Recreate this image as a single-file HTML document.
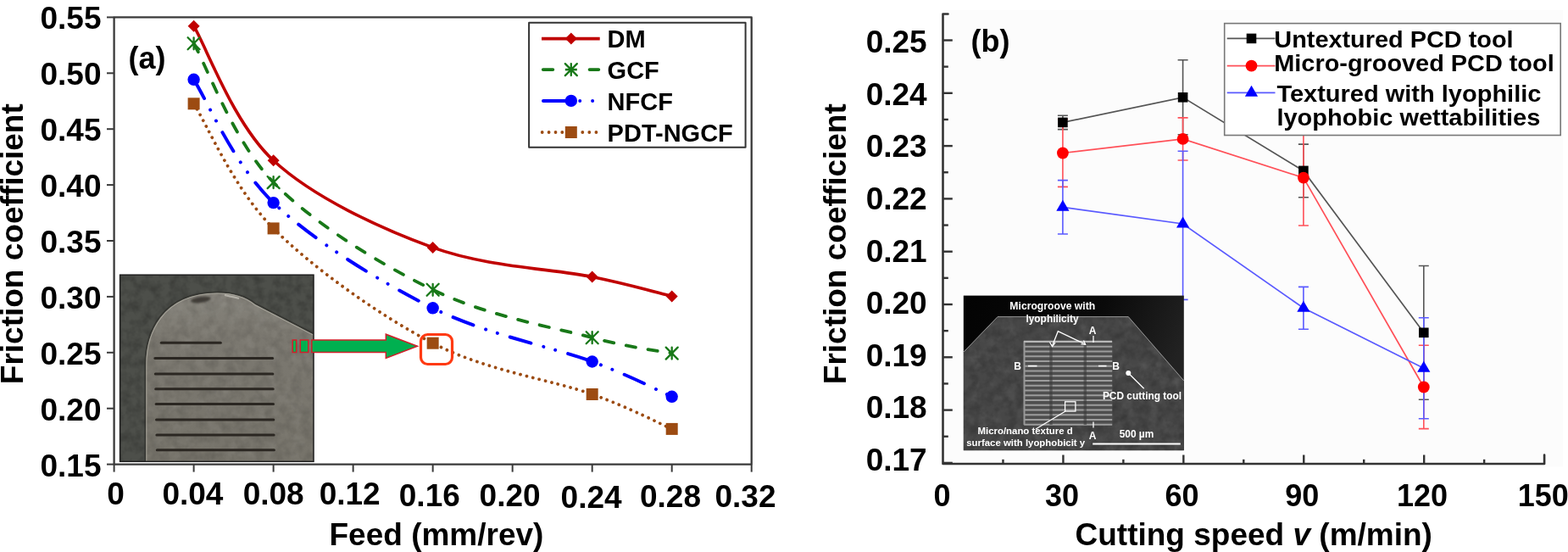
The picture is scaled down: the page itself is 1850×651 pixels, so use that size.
<!DOCTYPE html><html><head><meta charset="utf-8"><title>Friction coefficient charts</title>
<style>html,body{margin:0;padding:0;background:#fff;}svg{display:block;}</style></head><body>
<svg width="1850" height="651" viewBox="0 0 1850 651">
<g id="chartA">
<rect x="134.6" y="20.4" width="752.1" height="527.2" fill="none" stroke="#3a3a3a" stroke-width="2.3" stroke-linejoin="round"/>
<line x1="126" y1="20.4" x2="134.6" y2="20.4" stroke="#3a3a3a" stroke-width="2"/>
<text x="119.5" y="34.4" font-family="Liberation Sans, Arial, sans-serif" font-weight="bold" font-size="37" text-anchor="end">0.55</text>
<line x1="126" y1="86.3" x2="134.6" y2="86.3" stroke="#3a3a3a" stroke-width="2"/>
<text x="119.5" y="100.3" font-family="Liberation Sans, Arial, sans-serif" font-weight="bold" font-size="37" text-anchor="end">0.50</text>
<line x1="126" y1="152.2" x2="134.6" y2="152.2" stroke="#3a3a3a" stroke-width="2"/>
<text x="119.5" y="166.2" font-family="Liberation Sans, Arial, sans-serif" font-weight="bold" font-size="37" text-anchor="end">0.45</text>
<line x1="126" y1="218.1" x2="134.6" y2="218.1" stroke="#3a3a3a" stroke-width="2"/>
<text x="119.5" y="232.1" font-family="Liberation Sans, Arial, sans-serif" font-weight="bold" font-size="37" text-anchor="end">0.40</text>
<line x1="126" y1="284" x2="134.6" y2="284" stroke="#3a3a3a" stroke-width="2"/>
<text x="119.5" y="298" font-family="Liberation Sans, Arial, sans-serif" font-weight="bold" font-size="37" text-anchor="end">0.35</text>
<line x1="126" y1="349.9" x2="134.6" y2="349.9" stroke="#3a3a3a" stroke-width="2"/>
<text x="119.5" y="363.9" font-family="Liberation Sans, Arial, sans-serif" font-weight="bold" font-size="37" text-anchor="end">0.30</text>
<line x1="126" y1="415.8" x2="134.6" y2="415.8" stroke="#3a3a3a" stroke-width="2"/>
<text x="119.5" y="429.8" font-family="Liberation Sans, Arial, sans-serif" font-weight="bold" font-size="37" text-anchor="end">0.25</text>
<line x1="126" y1="481.7" x2="134.6" y2="481.7" stroke="#3a3a3a" stroke-width="2"/>
<text x="119.5" y="495.7" font-family="Liberation Sans, Arial, sans-serif" font-weight="bold" font-size="37" text-anchor="end">0.20</text>
<line x1="126" y1="547.6" x2="134.6" y2="547.6" stroke="#3a3a3a" stroke-width="2"/>
<text x="119.5" y="561.6" font-family="Liberation Sans, Arial, sans-serif" font-weight="bold" font-size="37" text-anchor="end">0.15</text>
<line x1="134.6" y1="547.6" x2="134.6" y2="556.6" stroke="#3a3a3a" stroke-width="2"/>
<line x1="228.61" y1="547.6" x2="228.61" y2="556.6" stroke="#3a3a3a" stroke-width="2"/>
<line x1="322.62" y1="547.6" x2="322.62" y2="556.6" stroke="#3a3a3a" stroke-width="2"/>
<line x1="416.64" y1="547.6" x2="416.64" y2="556.6" stroke="#3a3a3a" stroke-width="2"/>
<line x1="510.65" y1="547.6" x2="510.65" y2="556.6" stroke="#3a3a3a" stroke-width="2"/>
<line x1="604.66" y1="547.6" x2="604.66" y2="556.6" stroke="#3a3a3a" stroke-width="2"/>
<line x1="698.68" y1="547.6" x2="698.68" y2="556.6" stroke="#3a3a3a" stroke-width="2"/>
<line x1="792.69" y1="547.6" x2="792.69" y2="556.6" stroke="#3a3a3a" stroke-width="2"/>
<line x1="886.7" y1="547.6" x2="886.7" y2="556.6" stroke="#3a3a3a" stroke-width="2"/>
<text x="136.5" y="595" font-family="Liberation Sans, Arial, sans-serif" font-weight="bold" font-size="37" text-anchor="middle">0</text>
<text x="227.4" y="595" font-family="Liberation Sans, Arial, sans-serif" font-weight="bold" font-size="37" text-anchor="middle">0.04</text>
<text x="322.7" y="595" font-family="Liberation Sans, Arial, sans-serif" font-weight="bold" font-size="37" text-anchor="middle">0.08</text>
<text x="412.7" y="595.3" font-family="Liberation Sans, Arial, sans-serif" font-weight="bold" font-size="37" text-anchor="middle">0.12</text>
<text x="506.8" y="597.3" font-family="Liberation Sans, Arial, sans-serif" font-weight="bold" font-size="37" text-anchor="middle">0.16</text>
<text x="601.6" y="597.3" font-family="Liberation Sans, Arial, sans-serif" font-weight="bold" font-size="37" text-anchor="middle">0.20</text>
<text x="697.6" y="599.3" font-family="Liberation Sans, Arial, sans-serif" font-weight="bold" font-size="37" text-anchor="middle">0.24</text>
<text x="791" y="597.8" font-family="Liberation Sans, Arial, sans-serif" font-weight="bold" font-size="37" text-anchor="middle">0.28</text>
<text x="879.5" y="597.8" font-family="Liberation Sans, Arial, sans-serif" font-weight="bold" font-size="37" text-anchor="middle">0.32</text>
<text transform="translate(27.3,453.2) rotate(-90)" font-family="Liberation Sans, Arial, sans-serif" font-weight="bold" font-size="37">Friction coefficient</text>
<text x="388.5" y="643.4" font-family="Liberation Sans, Arial, sans-serif" font-weight="bold" font-size="37">Feed (mm/rev)</text>
<text x="151.5" y="81" font-family="Liberation Sans, Arial, sans-serif" font-weight="bold" font-size="36">(a)</text>
<defs><filter id="mottleA" x="0" y="0" width="100%" height="100%"><feTurbulence type="fractalNoise" baseFrequency="0.09" numOctaves="3" seed="7"/><feColorMatrix type="matrix" values="0 0 0 0 0  0 0 0 0 0  0 0 0 0 0  0 0 0 0.55 -0.2"/></filter><filter id="mottleW" x="0" y="0" width="100%" height="100%"><feTurbulence type="fractalNoise" baseFrequency="0.07" numOctaves="3" seed="11"/><feColorMatrix type="matrix" values="0 0 0 0 1  0 0 0 0 1  0 0 0 0 1  0 0 0 0.5 -0.22"/></filter><filter id="soft2" x="-20%" y="-50%" width="140%" height="200%"><feGaussianBlur stdDeviation="1"/></filter><clipPath id="toolA"><path d="M172.3,544.3 L172.3,430 C172.3,395 189.5,345.5 257,345.5 C276,345.5 290,350 301,359 L370,394.5 L370,544.3 Z"/></clipPath><linearGradient id="toolAg" x1="0" y1="0" x2="0" y2="1"><stop offset="0" stop-color="#8a877f"/><stop offset="0.35" stop-color="#7b7870"/><stop offset="1" stop-color="#76736a"/></linearGradient></defs>
<g id="insetA">
<rect x="141.6" y="324.2" width="228.4" height="220.1" fill="#4d4f4a"/>
<rect x="141.6" y="324.2" width="228.4" height="220.1" filter="url(#mottleA)" opacity="0.8"/>
<g clip-path="url(#toolA)"><rect x="141.6" y="324.2" width="228.4" height="220.1" fill="url(#toolAg)"/><rect x="141.6" y="324.2" width="228.4" height="220.1" filter="url(#mottleW)" opacity="0.3"/><rect x="141.6" y="324.2" width="228.4" height="220.1" filter="url(#mottleA)" opacity="0.4"/></g>
<path d="M171.3,544.3 L171.3,430 C171.3,394 188.5,344.5 257,344.5 C276.5,344.5 290.5,349 301.5,358 L370,393.5" fill="none" stroke="#2c2c28" stroke-width="1.6" opacity="0.7"/>
<path d="M172.8,544.3 L172.8,430 C172.8,395.5 190,346 257,346 C275.5,346 289.5,350.5 300.5,359.5 L370,395.2" fill="none" stroke="#b3b0a6" stroke-width="1.1" opacity="0.75"/>
<path d="M265,348 C268,349 275,350 282,352" stroke="#c9c6bd" stroke-width="2" fill="none" opacity="0.7"/>
<ellipse cx="237" cy="353.5" rx="12" ry="3.4" transform="rotate(-8 237 353.5)" fill="#2a2824" opacity="0.75" filter="url(#soft2)"/>
<line x1="190.3" y1="404.2" x2="260.3" y2="404.2" stroke="#2b2722" stroke-width="3" stroke-linecap="round"/>
<line x1="182.9" y1="422.6" x2="321.6" y2="422.6" stroke="#2b2722" stroke-width="3" stroke-linecap="round"/>
<line x1="183.3" y1="441.1" x2="321.9" y2="441.1" stroke="#2b2722" stroke-width="3" stroke-linecap="round"/>
<line x1="183.7" y1="458.8" x2="322.2" y2="458.8" stroke="#2b2722" stroke-width="3" stroke-linecap="round"/>
<line x1="184.1" y1="476.5" x2="322.5" y2="476.5" stroke="#2b2722" stroke-width="3" stroke-linecap="round"/>
<line x1="184.5" y1="494.9" x2="322.8" y2="494.9" stroke="#2b2722" stroke-width="3" stroke-linecap="round"/>
<line x1="184.9" y1="513" x2="323.1" y2="513" stroke="#2b2722" stroke-width="3" stroke-linecap="round"/>
<line x1="185.3" y1="530.7" x2="323.4" y2="530.7" stroke="#2b2722" stroke-width="3" stroke-linecap="round"/>
<rect x="141.6" y="324.2" width="228.4" height="220.1" fill="none" stroke="#1e1e1e" stroke-width="1.5"/>
</g>
<g id="arrow" stroke="#d0202a" stroke-width="1.5" fill="#00b050">
<rect x="345.2" y="401" width="4.5" height="14.5"/>
<rect x="354.3" y="401" width="9.5" height="14.5"/>
<path d="M367.8,401 L455.3,401 L455.3,394.2 L492.5,408.2 L455.3,422.5 L455.3,415.5 L367.8,415.5 Z"/>
</g>
<path d="M228.61,122.3 C244.28,146.82 275.62,222.33 322.62,269.4 C369.63,316.47 447.97,372.1 510.65,404.7 C573.33,437.3 651.67,448.13 698.68,465 C745.68,481.87 777.02,499.08 792.69,505.9" fill="none" stroke="#9c4b12" stroke-width="3.8" stroke-linecap="round" stroke-dasharray="0.01 7.6"/>
<path d="M228.61,93.8 C244.28,118.02 275.62,194.18 322.62,239.1 C369.63,284.02 447.97,332.07 510.65,363.3 C573.33,394.53 651.67,409.08 698.68,426.5 C745.68,443.92 777.02,460.92 792.69,467.8" fill="none" stroke="#0000ff" stroke-width="4" stroke-linecap="round" stroke-dasharray="25.6 15.5 0.01 14.4 0.01 15.5"/>
<path d="M228.61,51.3 C244.28,78.6 275.62,166.68 322.62,215.1 C369.63,263.52 447.97,311.28 510.65,341.8 C573.33,372.32 651.67,385.73 698.68,398.2 C745.68,410.67 777.02,413.53 792.69,416.6" fill="none" stroke="#187818" stroke-width="3.8" stroke-linecap="round" stroke-dasharray="11.4 14.8"/>
<path d="M228.61,30.7 C244.28,57.13 275.62,145.77 322.62,189.3 C369.63,232.83 447.97,269.03 510.65,291.9 C573.33,314.77 651.67,316.9 698.68,326.5 C745.68,336.1 777.02,345.67 792.69,349.5" fill="none" stroke="#c00000" stroke-width="3.6"/>
<rect x="221.61" y="115.3" width="14" height="14" fill="#9c4b12"/>
<rect x="315.62" y="262.4" width="14" height="14" fill="#9c4b12"/>
<rect x="503.65" y="397.7" width="14" height="14" fill="#9c4b12"/>
<rect x="691.68" y="458" width="14" height="14" fill="#9c4b12"/>
<rect x="785.69" y="498.9" width="14" height="14" fill="#9c4b12"/>
<circle cx="228.61" cy="93.8" r="7.2" fill="#0000ff"/>
<circle cx="322.62" cy="239.1" r="7.2" fill="#0000ff"/>
<circle cx="510.65" cy="363.3" r="7.2" fill="#0000ff"/>
<circle cx="698.68" cy="426.5" r="7.2" fill="#0000ff"/>
<circle cx="792.69" cy="467.8" r="7.2" fill="#0000ff"/>
<path d="M221.61,44.3 L235.61,58.3 M221.61,58.3 L235.61,44.3 M228.61,44.3 L228.61,58.3" stroke="#187818" stroke-width="2.3" stroke-linecap="round" fill="none"/>
<path d="M315.62,208.1 L329.62,222.1 M315.62,222.1 L329.62,208.1 M322.62,208.1 L322.62,222.1" stroke="#187818" stroke-width="2.3" stroke-linecap="round" fill="none"/>
<path d="M503.65,334.8 L517.65,348.8 M503.65,348.8 L517.65,334.8 M510.65,334.8 L510.65,348.8" stroke="#187818" stroke-width="2.3" stroke-linecap="round" fill="none"/>
<path d="M691.68,391.2 L705.68,405.2 M691.68,405.2 L705.68,391.2 M698.68,391.2 L698.68,405.2" stroke="#187818" stroke-width="2.3" stroke-linecap="round" fill="none"/>
<path d="M785.69,409.6 L799.69,423.6 M785.69,423.6 L799.69,409.6 M792.69,409.6 L792.69,423.6" stroke="#187818" stroke-width="2.3" stroke-linecap="round" fill="none"/>
<path d="M228.61,23.7 l7,7 l-7,7 l-7,-7 Z" fill="#c00000"/>
<path d="M322.62,182.3 l7,7 l-7,7 l-7,-7 Z" fill="#c00000"/>
<path d="M510.65,284.9 l7,7 l-7,7 l-7,-7 Z" fill="#c00000"/>
<path d="M698.68,319.5 l7,7 l-7,7 l-7,-7 Z" fill="#c00000"/>
<path d="M792.69,342.5 l7,7 l-7,7 l-7,-7 Z" fill="#c00000"/>
<rect x="496.5" y="394.5" width="37" height="35" rx="8" fill="none" stroke="#ff3a12" stroke-width="3.2"/>
<rect x="624.1" y="26.8" width="255.5" height="147" fill="#fff" stroke="#333" stroke-width="2" stroke-linejoin="round"/>
<line x1="639" y1="45.6" x2="707.7" y2="45.6" stroke="#c00000" stroke-width="3.6"/>
<path d="M673.8,38.6 l7,7 l-7,7 l-7,-7 Z" fill="#c00000"/>
<path d="M640.8,82.1 L652.3,82.1 M695.6,82.1 L706.3,82.1" stroke="#187818" stroke-width="3.9" stroke-linecap="round"/>
<path d="M666.8,75.1 L680.8,89.1 M666.8,89.1 L680.8,75.1 M673.8,75.1 L673.8,89.1" stroke="#187818" stroke-width="2.3" stroke-linecap="round" fill="none"/>
<line x1="666.8" y1="82.1" x2="680.8" y2="82.1" stroke="#187818" stroke-width="2.6"/>
<line x1="641" y1="118.9" x2="673.8" y2="118.9" stroke="#0000ff" stroke-width="4" stroke-linecap="round"/>
<circle cx="684.2" cy="118.9" r="2" fill="#0000ff"/><circle cx="699.1" cy="118.9" r="2" fill="#0000ff"/>
<circle cx="673.8" cy="118.9" r="7.2" fill="#0000ff"/>
<circle cx="639.7" cy="156" r="1.9" fill="#9c4b12"/><circle cx="647.6" cy="156" r="1.9" fill="#9c4b12"/><circle cx="655.5" cy="156" r="1.9" fill="#9c4b12"/><circle cx="663.3" cy="156" r="1.9" fill="#9c4b12"/><circle cx="687.3" cy="156" r="1.9" fill="#9c4b12"/><circle cx="695.3" cy="156" r="1.9" fill="#9c4b12"/><circle cx="703.4" cy="156" r="1.9" fill="#9c4b12"/>
<rect x="666.8" y="149" width="14" height="14" fill="#9c4b12"/>
<text x="716.6" y="56.2" font-family="Liberation Sans, Arial, sans-serif" font-weight="bold" font-size="29">DM</text>
<text x="716.6" y="92.7" font-family="Liberation Sans, Arial, sans-serif" font-weight="bold" font-size="29">GCF</text>
<text x="716.6" y="129.5" font-family="Liberation Sans, Arial, sans-serif" font-weight="bold" font-size="29">NFCF</text>
<text x="716.6" y="166.6" font-family="Liberation Sans, Arial, sans-serif" font-weight="bold" font-size="29">PDT-NGCF</text>
</g>
<g id="chartB">
<rect x="1114" y="12" width="730" height="538.5" fill="#fcfcfc"/>
<path d="M1118.5,16.5 L1112.5,16.5 L1112.5,547 L1822.1,547 L1822.1,536.5" fill="none" stroke="#333" stroke-width="2.6" stroke-linejoin="round" stroke-linecap="round"/>
<line x1="1112.5" y1="47.5" x2="1123.8" y2="47.5" stroke="#333" stroke-width="2.4"/>
<line x1="1112.5" y1="109.8" x2="1123.8" y2="109.8" stroke="#333" stroke-width="2.4"/>
<line x1="1112.5" y1="78.65" x2="1118.8" y2="78.65" stroke="#333" stroke-width="2.4"/>
<line x1="1112.5" y1="172.1" x2="1123.8" y2="172.1" stroke="#333" stroke-width="2.4"/>
<line x1="1112.5" y1="140.95" x2="1118.8" y2="140.95" stroke="#333" stroke-width="2.4"/>
<line x1="1112.5" y1="234.4" x2="1123.8" y2="234.4" stroke="#333" stroke-width="2.4"/>
<line x1="1112.5" y1="203.25" x2="1118.8" y2="203.25" stroke="#333" stroke-width="2.4"/>
<line x1="1112.5" y1="296.7" x2="1123.8" y2="296.7" stroke="#333" stroke-width="2.4"/>
<line x1="1112.5" y1="265.55" x2="1118.8" y2="265.55" stroke="#333" stroke-width="2.4"/>
<line x1="1112.5" y1="359" x2="1123.8" y2="359" stroke="#333" stroke-width="2.4"/>
<line x1="1112.5" y1="327.85" x2="1118.8" y2="327.85" stroke="#333" stroke-width="2.4"/>
<line x1="1112.5" y1="421.3" x2="1123.8" y2="421.3" stroke="#333" stroke-width="2.4"/>
<line x1="1112.5" y1="390.15" x2="1118.8" y2="390.15" stroke="#333" stroke-width="2.4"/>
<line x1="1112.5" y1="483.6" x2="1123.8" y2="483.6" stroke="#333" stroke-width="2.4"/>
<line x1="1112.5" y1="452.45" x2="1118.8" y2="452.45" stroke="#333" stroke-width="2.4"/>
<line x1="1112.5" y1="545.9" x2="1123.8" y2="545.9" stroke="#333" stroke-width="2.4"/>
<line x1="1112.5" y1="514.75" x2="1118.8" y2="514.75" stroke="#333" stroke-width="2.4"/>
<line x1="1183.46" y1="547" x2="1183.46" y2="541.8" stroke="#333" stroke-width="2.4"/>
<line x1="1254.42" y1="547" x2="1254.42" y2="536.5" stroke="#333" stroke-width="2.4"/>
<line x1="1325.38" y1="547" x2="1325.38" y2="541.8" stroke="#333" stroke-width="2.4"/>
<line x1="1396.34" y1="547" x2="1396.34" y2="536.5" stroke="#333" stroke-width="2.4"/>
<line x1="1467.3" y1="547" x2="1467.3" y2="541.8" stroke="#333" stroke-width="2.4"/>
<line x1="1538.26" y1="547" x2="1538.26" y2="536.5" stroke="#333" stroke-width="2.4"/>
<line x1="1609.22" y1="547" x2="1609.22" y2="541.8" stroke="#333" stroke-width="2.4"/>
<line x1="1680.18" y1="547" x2="1680.18" y2="536.5" stroke="#333" stroke-width="2.4"/>
<line x1="1751.14" y1="547" x2="1751.14" y2="541.8" stroke="#333" stroke-width="2.4"/>
<text x="1093.7" y="62.1" font-family="Liberation Sans, Arial, sans-serif" font-weight="bold" font-size="37" text-anchor="end">0.25</text>
<text x="1093.7" y="123.7" font-family="Liberation Sans, Arial, sans-serif" font-weight="bold" font-size="37" text-anchor="end">0.24</text>
<text x="1093.7" y="185.3" font-family="Liberation Sans, Arial, sans-serif" font-weight="bold" font-size="37" text-anchor="end">0.23</text>
<text x="1093.7" y="246.9" font-family="Liberation Sans, Arial, sans-serif" font-weight="bold" font-size="37" text-anchor="end">0.22</text>
<text x="1093.7" y="308.5" font-family="Liberation Sans, Arial, sans-serif" font-weight="bold" font-size="37" text-anchor="end">0.21</text>
<text x="1093.7" y="370.1" font-family="Liberation Sans, Arial, sans-serif" font-weight="bold" font-size="37" text-anchor="end">0.20</text>
<text x="1093.7" y="431.7" font-family="Liberation Sans, Arial, sans-serif" font-weight="bold" font-size="37" text-anchor="end">0.19</text>
<text x="1093.7" y="493.3" font-family="Liberation Sans, Arial, sans-serif" font-weight="bold" font-size="37" text-anchor="end">0.18</text>
<text x="1093.7" y="554.9" font-family="Liberation Sans, Arial, sans-serif" font-weight="bold" font-size="37" text-anchor="end">0.17</text>
<text x="1111.4" y="597" font-family="Liberation Sans, Arial, sans-serif" font-weight="bold" font-size="36" text-anchor="middle">0</text>
<text x="1252.9" y="597" font-family="Liberation Sans, Arial, sans-serif" font-weight="bold" font-size="36" text-anchor="middle">30</text>
<text x="1394.5" y="597" font-family="Liberation Sans, Arial, sans-serif" font-weight="bold" font-size="36" text-anchor="middle">60</text>
<text x="1536.3" y="597" font-family="Liberation Sans, Arial, sans-serif" font-weight="bold" font-size="36" text-anchor="middle">90</text>
<text x="1678" y="597" font-family="Liberation Sans, Arial, sans-serif" font-weight="bold" font-size="36" text-anchor="middle">120</text>
<text x="1820.8" y="597" font-family="Liberation Sans, Arial, sans-serif" font-weight="bold" font-size="36" text-anchor="middle">150</text>
<text transform="translate(997.8,453.2) rotate(-90)" font-family="Liberation Sans, Arial, sans-serif" font-weight="bold" font-size="37">Friction coefficient</text>
<text x="1268.5" y="643.4" font-family="Liberation Sans, Arial, sans-serif" font-weight="bold" font-size="37">Cutting speed <tspan font-style="italic">v</tspan> (m/min)</text>
<text x="1145.5" y="60.5" font-family="Liberation Sans, Arial, sans-serif" font-weight="bold" font-size="36">(b)</text>
<path d="M1253.9,136.2 L1253.9,152.6 M1247.9,136.2 l12,0 M1247.9,152.6 l12,0" stroke="#555555" stroke-width="1.6" fill="none"/>
<path d="M1395.6,70.8 L1395.6,158.8 M1389.6,70.8 l12,0 M1389.6,158.8 l12,0" stroke="#555555" stroke-width="1.6" fill="none"/>
<path d="M1537.9,170.1 L1537.9,232.7 M1531.9,170.1 l12,0 M1531.9,232.7 l12,0" stroke="#555555" stroke-width="1.6" fill="none"/>
<path d="M1679.8,313.5 L1679.8,471.2 M1673.8,313.5 l12,0 M1673.8,471.2 l12,0" stroke="#555555" stroke-width="1.6" fill="none"/>
<path d="M1253.9,140.6 L1253.9,220.4 M1247.9,140.6 l12,0 M1247.9,220.4 l12,0" stroke="#ff5058" stroke-width="1.6" fill="none"/>
<path d="M1395.6,138.9 L1395.6,189 M1389.6,138.9 l12,0 M1389.6,189 l12,0" stroke="#ff5058" stroke-width="1.6" fill="none"/>
<path d="M1537.9,153.2 L1537.9,266 M1531.9,153.2 l12,0 M1531.9,266 l12,0" stroke="#ff5058" stroke-width="1.6" fill="none"/>
<path d="M1679.8,407.2 L1679.8,505.6 M1673.8,407.2 l12,0 M1673.8,505.6 l12,0" stroke="#ff5058" stroke-width="1.6" fill="none"/>
<path d="M1253.9,212.6 L1253.9,276 M1247.9,212.6 l12,0 M1247.9,276 l12,0" stroke="#5a5aff" stroke-width="1.6" fill="none"/>
<path d="M1395.6,178.3 L1395.6,353.4 M1389.6,178.3 l12,0 M1389.6,353.4 l12,0" stroke="#5a5aff" stroke-width="1.6" fill="none"/>
<path d="M1537.9,338.4 L1537.9,388.3 M1531.9,338.4 l12,0 M1531.9,388.3 l12,0" stroke="#5a5aff" stroke-width="1.6" fill="none"/>
<path d="M1679.8,374.8 L1679.8,493.8 M1673.8,374.8 l12,0 M1673.8,493.8 l12,0" stroke="#5a5aff" stroke-width="1.6" fill="none"/>
<path d="M1253.9,144.4 L1395.6,114.8 L1537.9,201.4 L1679.8,392.3" stroke="#555555" stroke-width="1.7" fill="none"/>
<path d="M1253.9,180.5 L1395.6,163.9 L1537.9,209.6 L1679.8,456.5" stroke="#ff5058" stroke-width="1.7" fill="none"/>
<path d="M1253.9,244.3 L1395.6,264 L1537.9,363.3 L1679.8,434.3" stroke="#5a5aff" stroke-width="1.7" fill="none"/>
<rect x="1248.1" y="138.6" width="11.6" height="11.6" fill="#000"/>
<rect x="1389.8" y="109" width="11.6" height="11.6" fill="#000"/>
<rect x="1532.1" y="195.6" width="11.6" height="11.6" fill="#000"/>
<rect x="1674" y="386.5" width="11.6" height="11.6" fill="#000"/>
<circle cx="1253.9" cy="180.5" r="6.9" fill="#ff0000"/>
<circle cx="1395.6" cy="163.9" r="6.9" fill="#ff0000"/>
<circle cx="1537.9" cy="209.6" r="6.9" fill="#ff0000"/>
<circle cx="1679.8" cy="456.5" r="6.9" fill="#ff0000"/>
<path d="M1253.9,235.7 l7.6,13 l-15.2,0 Z" fill="#0000ff"/>
<path d="M1395.6,255.4 l7.6,13 l-15.2,0 Z" fill="#0000ff"/>
<path d="M1537.9,354.7 l7.6,13 l-15.2,0 Z" fill="#0000ff"/>
<path d="M1679.8,425.7 l7.6,13 l-15.2,0 Z" fill="#0000ff"/>
<defs><linearGradient id="semBg" x1="0" y1="0" x2="1" y2="0.3"><stop offset="0" stop-color="#030303"/><stop offset="0.6" stop-color="#0a0a0a"/><stop offset="1" stop-color="#222"/></linearGradient><filter id="grain" x="0" y="0" width="100%" height="100%"><feTurbulence type="fractalNoise" baseFrequency="0.35" numOctaves="2" seed="3" result="n"/><feColorMatrix in="n" type="matrix" values="0 0 0 0 0.5  0 0 0 0 0.5  0 0 0 0 0.5  0.9 0.9 0 0 -0.9" result="g"/><feComposite in="g" in2="SourceGraphic" operator="in" result="gi"/><feBlend in="SourceGraphic" in2="gi" mode="overlay"/></filter></defs>
<g id="insetB">
<rect x="1136.8" y="348.6" width="260" height="182.6" fill="url(#semBg)"/>
<defs><clipPath id="toolB"><path d="M1177,373.6 L1331.3,373.6 L1396.8,449 L1396.8,531.2 L1136.8,531.2 L1136.8,415.3 Z"/></clipPath></defs>
<g clip-path="url(#toolB)"><rect x="1136.8" y="348.6" width="260" height="182.6" fill="#474747"/><rect x="1136.8" y="348.6" width="260" height="182.6" filter="url(#mottleW)" opacity="0.35"/><rect x="1136.8" y="348.6" width="260" height="182.6" filter="url(#mottleA)" opacity="0.7"/></g>
<path d="M1136.8,415.3 L1177,373.6 L1331.3,373.6 L1396.8,449" fill="none" stroke="#b0b0b0" stroke-width="1" opacity="0.8"/>
<defs><filter id="soft" x="-5%" y="-5%" width="110%" height="110%"><feGaussianBlur stdDeviation="0.45"/></filter></defs>
<g filter="url(#soft)">
<rect x="1207.8" y="402.2" width="104.6" height="99.3" fill="#505050"/>
<line x1="1208.2" y1="403" x2="1312.2" y2="403" stroke="#9c9c9c" stroke-width="2.1"/>
<line x1="1208.2" y1="408.75" x2="1312.2" y2="408.75" stroke="#9c9c9c" stroke-width="2.1"/>
<line x1="1208.2" y1="414.5" x2="1312.2" y2="414.5" stroke="#9c9c9c" stroke-width="2.1"/>
<line x1="1208.2" y1="420.25" x2="1312.2" y2="420.25" stroke="#9c9c9c" stroke-width="2.1"/>
<line x1="1208.2" y1="426" x2="1312.2" y2="426" stroke="#9c9c9c" stroke-width="2.1"/>
<line x1="1208.2" y1="431.75" x2="1312.2" y2="431.75" stroke="#9c9c9c" stroke-width="2.1"/>
<line x1="1208.2" y1="437.5" x2="1312.2" y2="437.5" stroke="#9c9c9c" stroke-width="2.1"/>
<line x1="1208.2" y1="443.25" x2="1312.2" y2="443.25" stroke="#9c9c9c" stroke-width="2.1"/>
<line x1="1208.2" y1="449" x2="1312.2" y2="449" stroke="#9c9c9c" stroke-width="2.1"/>
<line x1="1208.2" y1="454.75" x2="1312.2" y2="454.75" stroke="#9c9c9c" stroke-width="2.1"/>
<line x1="1208.2" y1="460.5" x2="1312.2" y2="460.5" stroke="#9c9c9c" stroke-width="2.1"/>
<line x1="1208.2" y1="466.25" x2="1312.2" y2="466.25" stroke="#9c9c9c" stroke-width="2.1"/>
<line x1="1208.2" y1="472" x2="1312.2" y2="472" stroke="#9c9c9c" stroke-width="2.1"/>
<line x1="1208.2" y1="477.75" x2="1312.2" y2="477.75" stroke="#9c9c9c" stroke-width="2.1"/>
<line x1="1208.2" y1="483.5" x2="1312.2" y2="483.5" stroke="#9c9c9c" stroke-width="2.1"/>
<line x1="1208.2" y1="489.25" x2="1312.2" y2="489.25" stroke="#9c9c9c" stroke-width="2.1"/>
<line x1="1208.2" y1="495" x2="1312.2" y2="495" stroke="#9c9c9c" stroke-width="2.1"/>
<line x1="1208.2" y1="500.75" x2="1312.2" y2="500.75" stroke="#9c9c9c" stroke-width="2.1"/>
<line x1="1208.5" y1="402.2" x2="1208.5" y2="501" stroke="#999" stroke-width="2"/>
<line x1="1240" y1="402" x2="1240" y2="501" stroke="#3c3c3c" stroke-width="3.5" opacity="0.6"/>
<line x1="1280.3" y1="402" x2="1280.3" y2="501" stroke="#3c3c3c" stroke-width="3.5" opacity="0.6"/>
<line x1="1208" y1="402.8" x2="1312" y2="402.8" stroke="#bbb" stroke-width="2"/>
</g>
<g font-family="Liberation Sans, Arial, sans-serif" font-weight="bold" fill="#fff" font-size="11.9">
<text x="1241.8" y="365.2" text-anchor="middle" font-size="12.2">Microgroove with</text>
<text x="1241.5" y="379.8" text-anchor="middle">lyophilicity</text>
<text x="1289.2" y="394" text-anchor="middle" font-size="12">A</text>
<text x="1289.2" y="517.8" text-anchor="middle" font-size="12">A</text>
<text x="1200.5" y="435.5" text-anchor="middle" font-size="12">B</text>
<text x="1316.5" y="435.5" text-anchor="middle" font-size="12">B</text>
<text x="1347.5" y="470.6" text-anchor="middle">PCD cutting tool</text>
<text x="1209.6" y="512.2" text-anchor="middle" font-size="11.4">Micro/nano texture d</text>
<text x="1210.2" y="526" text-anchor="middle" font-size="11.4">surface with lyophobicit y</text>
<text x="1341" y="516.2" text-anchor="middle">500 µm</text>
</g>
<g stroke="#fff" fill="none" stroke-width="1.3">
<path d="M1241.5,408 L1248.3,390.7 L1280.6,406"/>
<path d="M1238.5,403.5 L1241.5,408.5 L1245,404.2 M1275.5,405.8 L1280.6,406.3 L1278.5,401.5"/>
<line x1="1290" y1="396" x2="1290" y2="404"/>
<line x1="1290" y1="497.5" x2="1290" y2="504.5"/>
<line x1="1213" y1="431.6" x2="1223.5" y2="431.6" stroke-width="1.6"/>
<line x1="1296" y1="431.6" x2="1305.5" y2="431.6" stroke-width="1.6"/>
<rect x="1256.6" y="473.8" width="12.3" height="11.2"/>
<line x1="1257" y1="485" x2="1222" y2="506"/>
<line x1="1331.3" y1="440" x2="1349.7" y2="458.3"/>
<line x1="1289.2" y1="523.5" x2="1392.8" y2="523.5" stroke-width="2.2"/>
</g>
<circle cx="1331.3" cy="440" r="3" fill="#fff"/>
</g>
<rect x="1444.7" y="27.6" width="396.5" height="131.9" fill="#fff" stroke="#777" stroke-width="1.6"/>
<line x1="1447.7" y1="45.4" x2="1504.5" y2="45.4" stroke="#555555" stroke-width="1.7"/>
<rect x="1470.7" y="39.6" width="11.6" height="11.6" fill="#000"/>
<line x1="1447.7" y1="77.6" x2="1504.5" y2="77.6" stroke="#ff5058" stroke-width="1.7"/>
<circle cx="1476.5" cy="77.6" r="6.9" fill="#ff0000"/>
<line x1="1447.7" y1="109.4" x2="1504.5" y2="109.4" stroke="#5a5aff" stroke-width="1.7"/>
<path d="M1476.5,100.8 l7.6,13 l-15.2,0 Z" fill="#0000ff"/>
<text transform="translate(1503.3,56.2) scale(1.05,1)" font-family="Liberation Sans, Arial, sans-serif" font-weight="bold" font-size="27.5">Untextured PCD tool</text>
<text transform="translate(1503.3,84.1) scale(1.05,1)" font-family="Liberation Sans, Arial, sans-serif" font-weight="bold" font-size="27.5">Micro-grooved PCD tool</text>
<text transform="translate(1506.4,120.3) scale(1.055,1)" font-family="Liberation Sans, Arial, sans-serif" font-weight="bold" font-size="27.5">Textured with lyophilic</text>
<text transform="translate(1506.4,148) scale(1.055,1)" font-family="Liberation Sans, Arial, sans-serif" font-weight="bold" font-size="27.5">lyophobic wettabilities</text>
</g>
</svg></body></html>
